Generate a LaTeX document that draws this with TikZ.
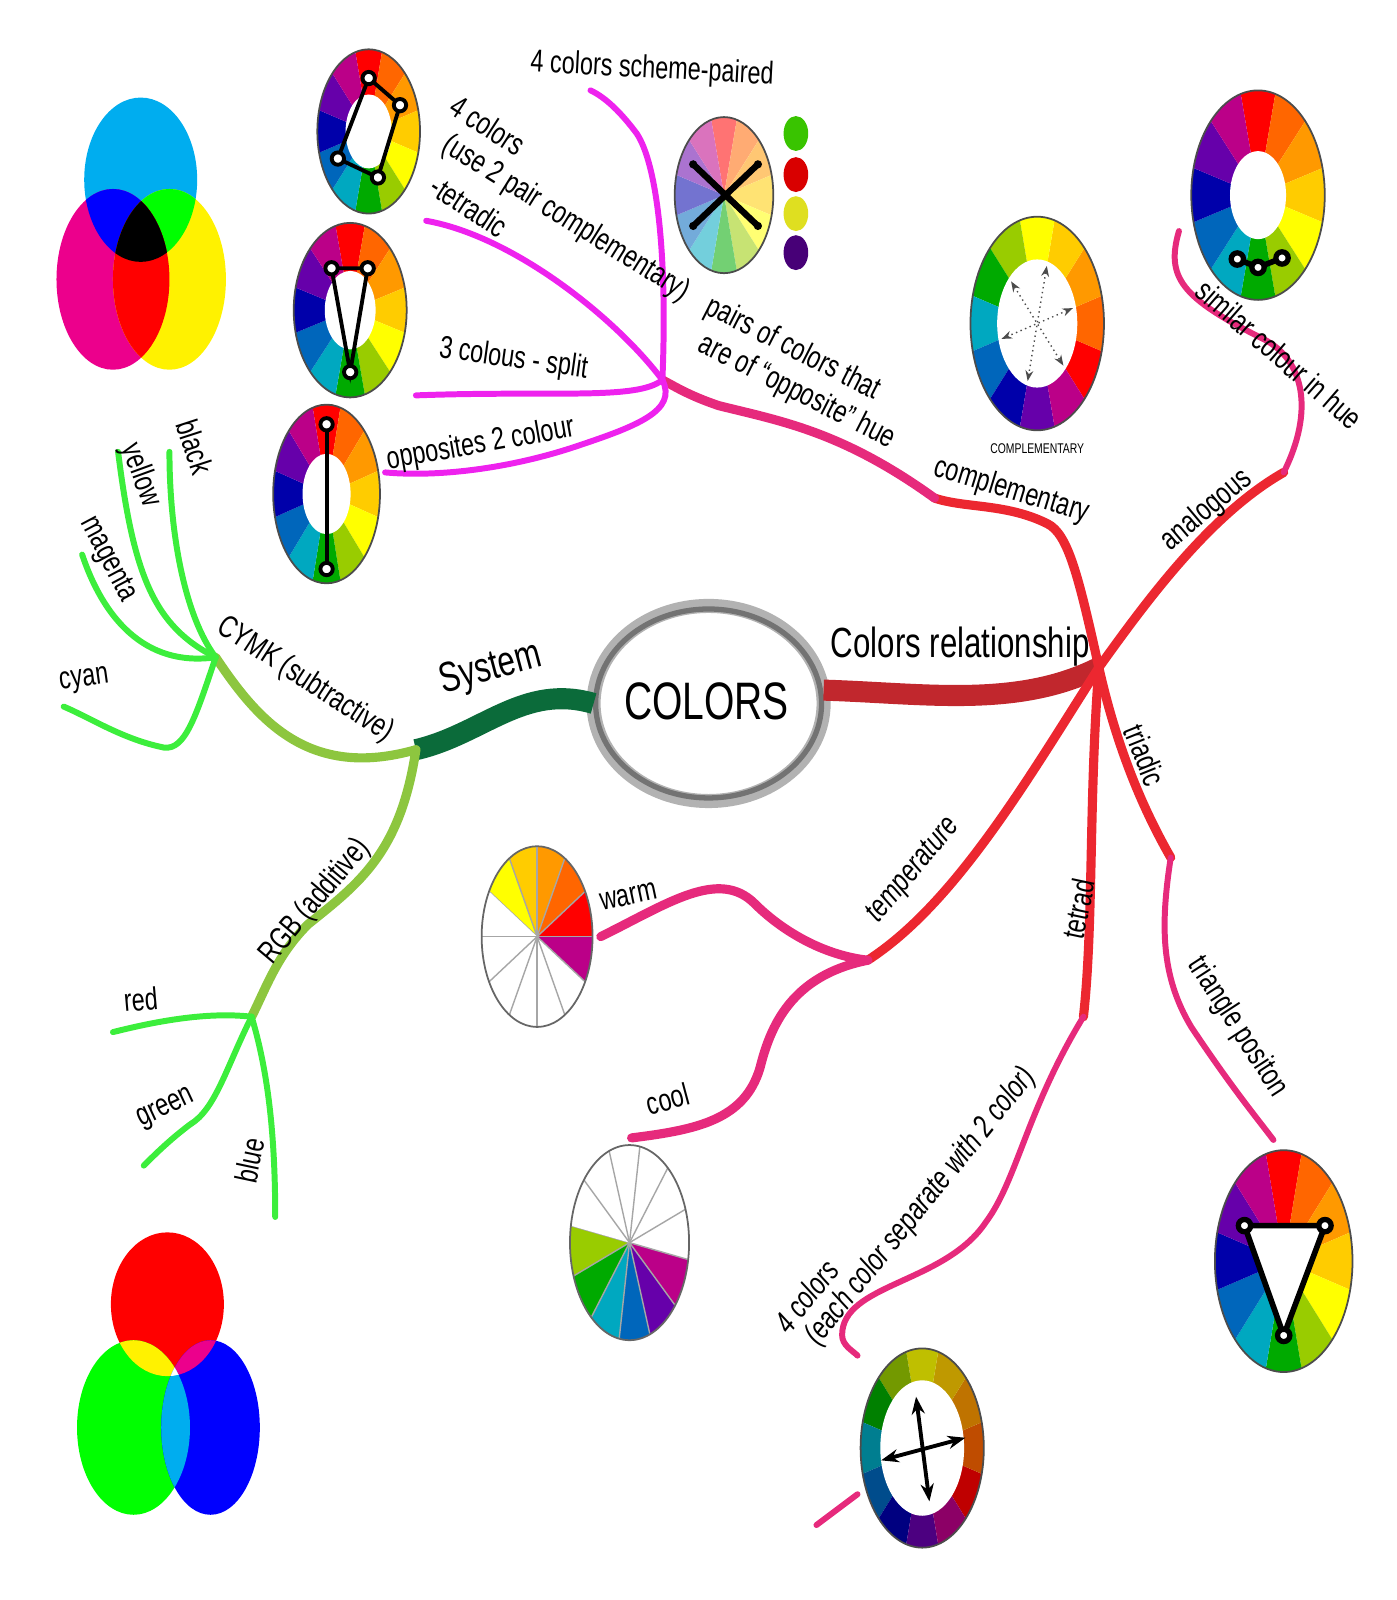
\documentclass[tikz,border=0pt]{standalone}
\usepackage{fontspec}
\setmainfont{Liberation Sans}[FakeStretch=0.74]
\usetikzlibrary{arrows.meta}
\definecolor{wr}{HTML}{FF0000}\definecolor{wro}{HTML}{FF6600}\definecolor{wo}{HTML}{FF9900}
\definecolor{wyo}{HTML}{FFCC00}\definecolor{wy}{HTML}{FFFF00}\definecolor{wyg}{HTML}{99CC00}
\definecolor{wg}{HTML}{00AA00}\definecolor{wbg}{HTML}{00A8C0}\definecolor{wb}{HTML}{0066BB}
\definecolor{wbv}{HTML}{0000AA}\definecolor{wv}{HTML}{6600AA}\definecolor{wrv}{HTML}{BB0088}
\definecolor{dkg}{HTML}{0B6B3A}\definecolor{lg}{HTML}{8DC63F}\definecolor{brg}{HTML}{3CEE3C}
\definecolor{dkr}{HTML}{C1272D}\definecolor{rd}{HTML}{EC2730}\definecolor{pk}{HTML}{E62A7C}
\definecolor{mg}{HTML}{EE22EE}
% x, y, rx, ry, hole, offset, mix
\newcommand\cwheel[7]{%
 \begin{scope}[shift={(#1,#2)},xscale=#3,yscale=#4]
 \foreach \c [count=\i from 0] in {wr,wro,wo,wyo,wy,wyg,wg,wbg,wb,wbv,wv,wrv}{
  \fill[\c!#7] (0,0) -- ({105-30*\i+#6}:1) arc[start angle={105-30*\i+#6},end angle={75-30*\i+#6},radius=1] -- cycle;}
 \fill[white] (0,0) circle[radius=#5];
 \draw[black!70,line width=0.5pt] (0,0) circle[radius=1];
 \end{scope}}
\tikzset{lab/.style={font=\fontsize{9}{10.5}\selectfont,inner sep=1pt,align=center},
 big/.style={font=\fontsize{12}{14}\selectfont,inner sep=1pt},
 mid/.style={line width=2.6pt,line cap=round},
 thn/.style={line width=1.7pt,line cap=round},
 mk/.style={line width=1.1pt,black},
 dot/.style={line width=1.1pt,draw=black,fill=white}}
\begin{document}
\begin{tikzpicture}[x=0.01027cm,y=0.01027cm]
\useasboundingbox (0,0) rectangle (1360,-1558);
% CMY venn
\def\Cc{(137,-175) ellipse[x radius=55,y radius=80]}
\def\Mc{(110,-272) ellipse[x radius=55,y radius=88]}
\def\Yc{(165,-272) ellipse[x radius=55,y radius=88]}
\fill[cyan] \Cc; \fill[magenta] \Mc; \fill[yellow] \Yc;
\begin{scope}\clip \Cc;\fill[blue] \Mc;\fill[green] \Yc;\clip \Mc;\fill[black] \Yc;\end{scope}
\begin{scope}\clip \Mc;\fill[red] \Yc;\clip \Cc;\fill[black] \Yc;\end{scope}
% RGB venn
\def\Rc{(163,-1270) ellipse[x radius=55,y radius=70]}
\def\Gc{(130,-1390) ellipse[x radius=55,y radius=85]}
\def\Bc{(205,-1390) ellipse[x radius=48,y radius=85]}
\fill[red] \Rc; \fill[green] \Gc; \fill[blue] \Bc;
\begin{scope}\clip \Rc;\fill[yellow] \Gc;\fill[magenta] \Bc;\clip \Gc;\fill[white] \Bc;\end{scope}
\begin{scope}\clip \Gc;\fill[cyan] \Bc;\clip \Rc;\fill[white] \Bc;\end{scope}
% center
\draw[gray!60,line width=4pt] (690,-685) ellipse[x radius=112,y radius=95];
\draw[gray!90!black,line width=1.5pt] (690,-685) ellipse[x radius=110,y radius=92];
\node[font=\fontsize{15}{17}\selectfont] (c) at (688,-683) {COLORS};
\coordinate (cw) at (578,-685);
\coordinate (ce) at (802,-672);
% system branch
\coordinate (s) at (405,-730);
\coordinate (cy) at (210,-640);
\coordinate (rg) at (245,-990);
\draw[dkg,line width=6pt] (cw) .. controls (510,-665) and (470,-715) .. (s);
\node[big,rotate=15] (lsys) at (478,-652) {System};
\draw[lg,mid] (s) .. controls (300,-760) and (250,-700) .. (cy);
\node[lab,rotate=-33] (lcy) at (297,-662) {CYMK (subtractive)};
\draw[lg,mid] (s) .. controls (390,-830) and (350,-860) .. (300,-900) .. controls (270,-930) and (260,-960) .. (rg);
\node[lab,rotate=50] (lrg) at (307,-878) {RGB (additive)};
\coordinate (ecyan) at (62,-688);\coordinate (emag) at (80,-540);\coordinate (eyel) at (115,-440);\coordinate (eblk) at (165,-440);
\draw[brg,thn] (cy) .. controls (190,-700) and (180,-730) .. (160,-728) .. controls (120,-720) and (90,-700) .. (ecyan);
\draw[brg,thn] (cy) .. controls (140,-650) and (100,-600) .. (emag);
\draw[brg,thn] (cy) .. controls (150,-610) and (130,-560) .. (eyel);
\draw[brg,thn] (cy) .. controls (180,-600) and (165,-520) .. (eblk);
\node[lab,rotate=8] at (82,-663) {cyan};
\node[lab,rotate=-62] at (105,-545) {magenta};
\node[lab,rotate=-70] at (137,-463) {yellow};
\node[lab,rotate=-72] at (190,-435) {black};
\coordinate (ered) at (110,-1005);\coordinate (egr) at (140,-1135);\coordinate (ebl) at (268,-1185);
\draw[brg,thn] (rg) .. controls (200,-985) and (150,-995) .. (ered);
\draw[brg,thn] (rg) .. controls (220,-1040) and (210,-1080) .. (185,-1095) .. controls (165,-1110) and (150,-1125) .. (egr);
\draw[brg,thn] (rg) .. controls (260,-1040) and (268,-1100) .. (ebl);
\node[lab,rotate=5] at (137,-973) {red};
\node[lab,rotate=25] at (162,-1080) {green};
\node[lab,rotate=78] at (243,-1130) {blue};
% relationships
\coordinate (h) at (1070,-650);
\draw[dkr,line width=6pt] (ce) .. controls (900,-675) and (990,-690) .. (h);
\node[big] (lrel) at (935,-630) {Colors relationship};
% complementary
\coordinate (cp) at (910,-485);\coordinate (mj) at (645,-370);
\draw[rd,mid] (h) .. controls (1050,-560) and (1040,-520) .. (1020,-510) .. controls (980,-490) and (940,-495) .. (cp);
\draw[pk,mid] (cp) .. controls (820,-420) and (760,-410) .. (700,-395) .. controls (670,-385) and (655,-375) .. (mj);
\node[lab,rotate=-17] at (985,-478) {complementary};
\node[lab,rotate=-27] at (772,-340) {pairs of colors that};
\node[lab,rotate=-27] at (776,-382) {are of “opposite” hue};
\coordinate (e4t) at (415,-215);\coordinate (e4p) at (575,-88);\coordinate (e3s) at (405,-385);\coordinate (e2o) at (375,-460);
\draw[mg,thn] (mj) .. controls (600,-310) and (500,-230) .. (e4t);
\draw[mg,thn] (mj) .. controls (650,-250) and (640,-160) .. (620,-130) .. controls (605,-110) and (590,-95) .. (e4p);
\draw[mg,thn] (mj) .. controls (620,-390) and (540,-380) .. (e3s);
\draw[mg,thn] (mj) .. controls (660,-400) and (620,-415) .. (560,-435) .. controls (500,-455) and (430,-465) .. (e2o);
\node[lab,rotate=-33] at (475,-122) {4 colors};
\node[lab,rotate=-32] at (551,-213) {(use 2 pair complementary)};
\node[lab,rotate=-33] at (457,-201) {-tetradic};
\node[lab,rotate=-3] at (635,-68) {4 colors scheme-paired};
\node[lab,rotate=-8] at (500,-350) {3 colous - split};
\node[lab,rotate=10] at (468,-433) {opposites 2 colour};
% analogous
\coordinate (an) at (1250,-460);
\draw[rd,mid] (h) .. controls (1120,-580) and (1180,-500) .. (an);
\draw[pk,thn] (an) .. controls (1280,-400) and (1270,-350) .. (1230,-330) .. controls (1150,-290) and (1135,-270) .. (1148,-225);
\node[lab,rotate=40] at (1175,-497) {analogous};
\node[lab,rotate=-41] at (1246,-345) {similar colour in hue};
% triadic
\coordinate (tr) at (1140,-835);
\draw[rd,mid] (h) .. controls (1090,-740) and (1120,-800) .. (tr);
\draw[pk,thn] (tr) .. controls (1130,-900) and (1130,-950) .. (1160,-1000) .. controls (1200,-1060) and (1225,-1090) .. (1240,-1110);
\node[lab,rotate=-68] at (1115,-735) {triadic};
\node[lab,rotate=-57] at (1205,-1000) {triangle positon};
% tetrad
\coordinate (te) at (1055,-990);
\draw[rd,mid] (h) .. controls (1060,-780) and (1065,-900) .. (te);
\draw[pk,thn] (te) .. controls (1000,-1080) and (990,-1150) .. (960,-1190) .. controls (920,-1250) and (820,-1250) .. (820,-1300) .. controls (820,-1310) and (830,-1315) .. (835,-1320);
\draw[pk,thn] (795,-1485) -- (835,-1455);
\node[lab,rotate=78] at (1050,-885) {tetrad};
\node[lab,rotate=51,font=\fontsize{9}{10.5}\itshape] at (785,-1262) {4 colors};
\node[lab,rotate=51,font=\fontsize{9}{10.5}\itshape] at (897,-1175) {(each color separate with 2 color)};
% temperature
\coordinate (tp) at (845,-935);
\draw[rd,mid] (h) .. controls (1000,-760) and (930,-880) .. (tp);
\node[lab,rotate=50,font=\fontsize{9}{10.5}\itshape] at (890,-848) {temperature};
\coordinate (ew) at (585,-912);\coordinate (ec) at (615,-1108);
\draw[pk,mid] (tp) .. controls (800,-930) and (760,-905) .. (735,-880) .. controls (700,-845) and (650,-880) .. (ew);
\draw[pk,mid] (tp) .. controls (770,-950) and (750,-1000) .. (740,-1040) .. controls (725,-1090) and (680,-1100) .. (ec);
\node[lab,rotate=12] at (612,-873) {warm};
\node[lab,rotate=15] at (650,-1070) {cool};
% wheels
\cwheel{359}{-128}{50}{80}{0.45}{0}{100}
\begin{scope}[shift={(359,-128)},xscale=50,yscale=80]
\coordinate (t1) at (0,0.65);\coordinate (t2) at (0.61,0.32);\coordinate (t3) at (0.18,-0.56);\coordinate (t4) at (-0.6,-0.33);
\end{scope}
\draw[mk] (t1) -- (t2) -- (t3) -- (t4) -- cycle;
\foreach \p in {t1,t2,t3,t4} \draw[dot] (\p) circle[radius=6];
\cwheel{341}{-302}{55}{85}{0.45}{0}{100}
\begin{scope}[shift={(341,-302)},xscale=55,yscale=85]
\coordinate (s1) at (-0.33,0.48);\coordinate (s2) at (0.31,0.48);\coordinate (s3) at (0,-0.71);
\end{scope}
\draw[mk] (s1) -- (s2) -- (s3) -- cycle;
\foreach \p in {s1,s2,s3} \draw[dot] (\p) circle[radius=6];
\cwheel{318}{-481}{52}{87}{0.45}{0}{100}
\begin{scope}[shift={(318,-481)},xscale=52,yscale=87]
\coordinate (o1) at (0,0.78);\coordinate (o2) at (0,-0.84);
\end{scope}
\draw[mk] (o1) -- (o2);
\foreach \p in {o1,o2} \draw[dot] (\p) circle[radius=6];
\cwheel{705}{-190}{48}{76}{0}{0}{55!white}
\draw[line width=1.8pt] (675,-160) -- (738,-220) (738,-160) -- (675,-220);
\foreach \p in {(675,-160),(738,-220),(738,-160),(675,-220)} \fill \p circle[radius=4];
\fill[wg!70!lime] (775,-130) ellipse[x radius=12,y radius=17];
\fill[wr!85!black] (775,-170) ellipse[x radius=12,y radius=17];
\fill[wy!75!gray] (775,-208) ellipse[x radius=12,y radius=17];
\fill[wv!70!black] (775,-246) ellipse[x radius=12,y radius=17];
\cwheel{1010}{-315}{-65}{104}{0.6}{120}{100}
\begin{scope}[shift={(1010,-315)},xscale=36,yscale=58]
\foreach \a in {15,75,135} \draw[densely dotted,{Stealth[length=3pt]}-{Stealth[length=3pt]},black!70] (\a:1) -- (\a+180:1);
\end{scope}
\node[font=\fontsize{4}{5}\selectfont] at (1010,-437) {COMPLEMENTARY};
\cwheel{1225}{-190}{65}{102}{0.42}{0}{100}
\begin{scope}[shift={(1225,-190)},xscale=65,yscale=102]
\coordinate (a1) at (-0.31,-0.61);\coordinate (a2) at (0,-0.69);\coordinate (a3) at (0.36,-0.6);
\end{scope}
\draw[mk,line width=1.6pt] (a1) -- (a2) -- (a3);
\foreach \p in {a1,a2,a3} \draw[dot,line width=1.5pt] (\p) circle[radius=6];
\cwheel{1250}{-1228}{67}{108}{0}{0}{100}
\begin{scope}[shift={(1250,-1228)},xscale=67,yscale=108]
\coordinate (g1) at (-0.57,0.32);\coordinate (g2) at (0.6,0.32);\coordinate (g3) at (0,-0.67);
\end{scope}
\fill[white] (g1) -- (g2) -- (g3) -- cycle;
\draw[mk,line width=1.6pt] (g1) -- (g2) -- (g3) -- cycle;
\foreach \p in {g1,g2,g3} \draw[dot,line width=1.5pt] (\p) circle[radius=6];
\cwheel{898}{-1410}{-60}{97}{0.68}{120}{75!black}
\draw[mk,{Stealth[length=5pt]}-{Stealth[length=5pt]}] (858,-1422) -- (940,-1400);
\draw[mk,{Stealth[length=5pt]}-{Stealth[length=5pt]}] (892,-1360) -- (905,-1462);
% warm pie
\begin{scope}[shift={(523,-912)},xscale=54,yscale=88]
\foreach \c [count=\i from 0] in {wy,wyo,wo,wro,wr,wrv,white,white,white,white,white,white}{
 \fill[\c] (0,0) -- ({150-30*\i}:1) arc[start angle={150-30*\i},end angle={120-30*\i},radius=1] -- cycle;
 \draw[gray!70,line width=0.4pt] (0,0) -- ({150-30*\i}:1);}
\draw[black!60,line width=0.5pt] (0,0) circle[radius=1];
\end{scope}
% cool pie
\begin{scope}[shift={(613,-1210)},xscale=58,yscale=95]
\foreach \c [count=\i from 0] in {wyg,wg,wbg,wb,wv,wrv,white,white,white,white,white,white}{
 \fill[\c] (0,0) -- ({170+30*\i}:1) arc[start angle={170+30*\i},end angle={200+30*\i},radius=1] -- cycle;
 \draw[gray!70,line width=0.4pt] (0,0) -- ({170+30*\i}:1);}
\draw[black!60,line width=0.5pt] (0,0) circle[radius=1];
\end{scope}
\end{tikzpicture}
\end{document}
